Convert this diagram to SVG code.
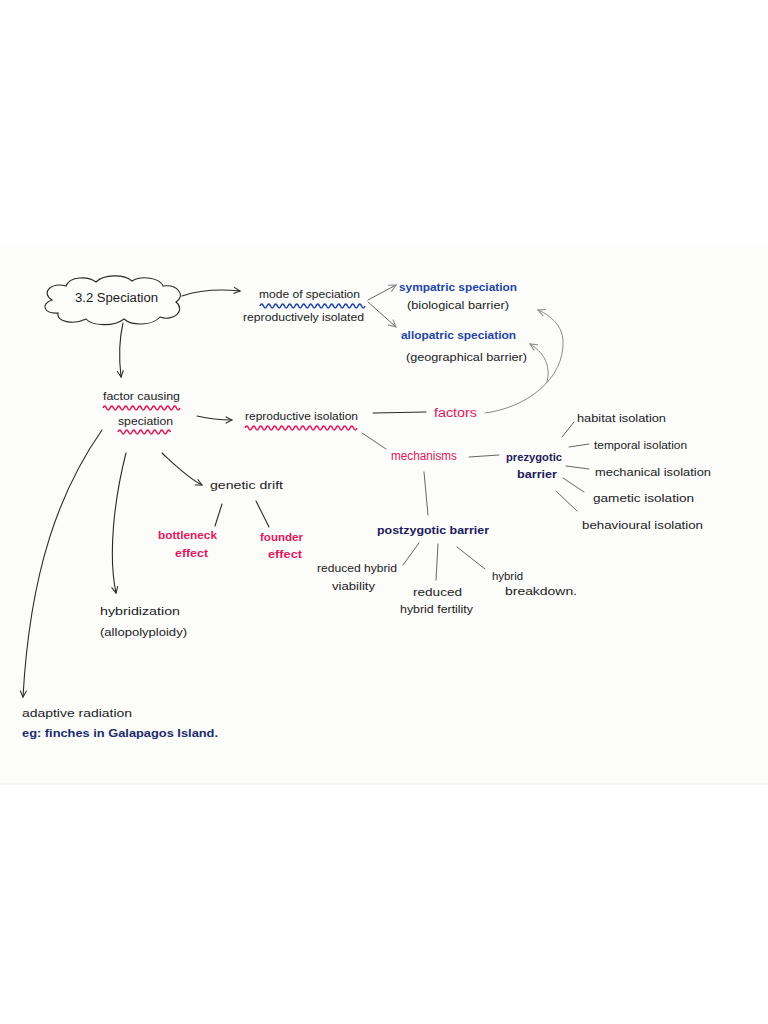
<svg xmlns="http://www.w3.org/2000/svg" width="768" height="1024" viewBox="0 0 768 1024">
<style>
text{font-family:"Liberation Sans","DejaVu Sans",sans-serif;font-size:11px;fill:#1b1b1b}
.blue{fill:#1f45a8;font-weight:bold;font-size:11.5px}
.pink{fill:#e2175c;font-size:12px}
.pinkb{fill:#e2175c;font-weight:bold;font-size:11px}
.navy{fill:#231a5c;font-weight:bold;font-size:11.5px}
.eg{fill:#1c2a6e;font-weight:bold;font-size:11.5px}
.c{fill:none;stroke:#2a2a2a;stroke-width:1.1;stroke-linecap:round}
.g{fill:none;stroke:#666;stroke-width:1;stroke-linecap:round}
.gc{fill:none;stroke:#8a8a8a;stroke-width:1;stroke-linecap:round}
.wb{fill:none;stroke:#1f45a8;stroke-width:1.6}
.wp{fill:none;stroke:#e2175c;stroke-width:1.6}
</style>
<defs>
<marker id="ah" viewBox="0 0 10 10" refX="9" refY="5" markerWidth="8" markerHeight="8" markerUnits="userSpaceOnUse" orient="auto">
<path d="M1,1 L9,5 L1,9" fill="none" stroke="#2a2a2a" stroke-width="1.3"/>
</marker>
<marker id="ahg" viewBox="0 0 10 10" refX="9" refY="5" markerWidth="9" markerHeight="9" markerUnits="userSpaceOnUse" orient="auto">
<path d="M1,1 L9,5 L1,9" fill="none" stroke="#8a8a8a" stroke-width="1.2"/>
</marker>
</defs>
<rect x="0" y="0" width="768" height="1024" fill="#ffffff"/>
<rect x="0" y="244" width="768" height="540" fill="#fcfcfb"/>
<line x1="0" y1="784" x2="768" y2="784" stroke="#efefed" stroke-width="1"/>

<g id="connectors">
<path class="c" d="M182,296 C200,290 220,289 240,291" marker-end="url(#ah)"/>
<path class="g" d="M368,300 L396,285" marker-end="url(#ahg)"/>
<path class="g" d="M368,302 L396,327" marker-end="url(#ahg)"/>
<path class="c" d="M123,323 C119,340 119,360 121,377" marker-end="url(#ah)"/>
<path class="c" d="M197,416 C210,419 220,420 232,420" marker-end="url(#ah)"/>
<path class="c" d="M373,413 L426,412"/>
<path class="g" d="M362,433 L386,449"/>
<path class="g" d="M469,457 L499,455"/>
<path class="g" d="M424,472 L428,515"/>
<path class="gc" d="M485,413 C525,408 565,380 563,340 C562,325 550,315 538,310" marker-end="url(#ahg)"/>
<path class="gc" d="M547,382 C550,370 548,355 530,344" marker-end="url(#ahg)"/>
<path class="g" d="M562,437 L574,422"/>
<path class="g" d="M569,447 L589,444"/>
<path class="g" d="M566,466 L589,469"/>
<path class="g" d="M563,478 L584,492"/>
<path class="g" d="M556,491 L577,511"/>
<path class="g" d="M419,543 L403,565"/>
<path class="g" d="M438,544 L436,580"/>
<path class="g" d="M457,547 L485,569"/>
<path class="c" d="M162,453 C175,465 188,478 202,485" marker-end="url(#ah)"/>
<path class="c" d="M222,504 L215,526"/>
<path class="c" d="M256,501 L269,527"/>
<path class="c" d="M126,453 C114,500 108,555 116,593" marker-end="url(#ah)"/>
<path class="c" d="M102,430 C60,490 30,570 23,697" marker-end="url(#ah)"/>
</g>

<g id="n-speciation">
<path class="c" d="M52,300 C40,292 52,282 66,286 C70,276 88,276 96,282 C104,274 124,274 132,281 C142,275 160,278 163,286 C178,284 186,296 176,302 C186,310 174,322 160,317 C152,326 132,326 124,319 C114,327 92,326 86,319 C74,325 56,322 58,313 C44,314 40,304 52,300 Z"/>
<text x="75" y="302" textLength="83" lengthAdjust="spacingAndGlyphs" style="font-size:12px">3.2 Speciation</text>
</g>

<g id="n-mode">
<text x="259" y="298" textLength="101" lengthAdjust="spacingAndGlyphs">mode of speciation</text>
<path class="wb" d="M260,306 q1.75,-4 3.5,0 t3.5,0 t3.5,0 t3.5,0 t3.5,0 t3.5,0 t3.5,0 t3.5,0 t3.5,0 t3.5,0 t3.5,0 t3.5,0 t3.5,0 t3.5,0 t3.5,0 t3.5,0 t3.5,0 t3.5,0 t3.5,0 t3.5,0 t3.5,0 t3.5,0 t3.5,0 t3.5,0 t3.5,0 t3.5,0 t3.5,0 t3.5,0 t3.5,0 t3.5,0"/>
<text x="243" y="321" textLength="121" lengthAdjust="spacingAndGlyphs">reproductively isolated</text>
</g>

<g id="n-sympatric">
<text class="blue" x="399" y="291" textLength="118" lengthAdjust="spacingAndGlyphs">sympatric speciation</text>
<text x="407" y="309" textLength="102" lengthAdjust="spacingAndGlyphs">(biological barrier)</text>
</g>

<g id="n-allopatric">
<text class="blue" x="401" y="339" textLength="115" lengthAdjust="spacingAndGlyphs">allopatric speciation</text>
<text x="406" y="361" textLength="121" lengthAdjust="spacingAndGlyphs">(geographical barrier)</text>
</g>

<g id="n-factor-causing">
<text x="103" y="400" textLength="77" lengthAdjust="spacingAndGlyphs">factor causing</text>
<path class="wp" d="M103,408 q1.75,-4 3.5,0 t3.5,0 t3.5,0 t3.5,0 t3.5,0 t3.5,0 t3.5,0 t3.5,0 t3.5,0 t3.5,0 t3.5,0 t3.5,0 t3.5,0 t3.5,0 t3.5,0 t3.5,0 t3.5,0 t3.5,0 t3.5,0 t3.5,0 t3.5,0 t3.5,0"/>
<text x="118" y="425" textLength="55" lengthAdjust="spacingAndGlyphs">speciation</text>
<path class="wp" d="M118,432 q1.75,-4 3.5,0 t3.5,0 t3.5,0 t3.5,0 t3.5,0 t3.5,0 t3.5,0 t3.5,0 t3.5,0 t3.5,0 t3.5,0 t3.5,0 t3.5,0 t3.5,0 t3.5,0"/>
</g>

<g id="n-reproductive-isolation">
<text x="245" y="420" textLength="113" lengthAdjust="spacingAndGlyphs">reproductive isolation</text>
<path class="wp" d="M245,428 q1.75,-4 3.5,0 t3.5,0 t3.5,0 t3.5,0 t3.5,0 t3.5,0 t3.5,0 t3.5,0 t3.5,0 t3.5,0 t3.5,0 t3.5,0 t3.5,0 t3.5,0 t3.5,0 t3.5,0 t3.5,0 t3.5,0 t3.5,0 t3.5,0 t3.5,0 t3.5,0 t3.5,0 t3.5,0 t3.5,0 t3.5,0 t3.5,0 t3.5,0 t3.5,0 t3.5,0 t3.5,0 t3.5,0"/>
</g>

<g id="n-factors">
<text class="pink" x="434" y="417" textLength="43" lengthAdjust="spacingAndGlyphs">factors</text>
</g>

<g id="n-mechanisms">
<text class="pink" x="391" y="460" textLength="66" lengthAdjust="spacingAndGlyphs">mechanisms</text>
</g>

<g id="n-prezygotic">
<text class="navy" x="506" y="461" textLength="56" lengthAdjust="spacingAndGlyphs">prezygotic</text>
<text class="navy" x="517" y="478" textLength="40" lengthAdjust="spacingAndGlyphs">barrier</text>
</g>

<g id="n-habitat"><text x="577" y="422" textLength="89" lengthAdjust="spacingAndGlyphs">habitat isolation</text></g>
<g id="n-temporal"><text x="594" y="449" textLength="93" lengthAdjust="spacingAndGlyphs">temporal isolation</text></g>
<g id="n-mechanical"><text x="595" y="476" textLength="116" lengthAdjust="spacingAndGlyphs">mechanical isolation</text></g>
<g id="n-gametic"><text x="593" y="502" textLength="101" lengthAdjust="spacingAndGlyphs">gametic isolation</text></g>
<g id="n-behavioural"><text x="582" y="529" textLength="121" lengthAdjust="spacingAndGlyphs">behavioural isolation</text></g>

<g id="n-postzygotic">
<text class="navy" x="377" y="534" textLength="112" lengthAdjust="spacingAndGlyphs">postzygotic barrier</text>
</g>

<g id="n-viability">
<text x="317" y="572" textLength="80" lengthAdjust="spacingAndGlyphs">reduced hybrid</text>
<text x="332" y="590" textLength="43" lengthAdjust="spacingAndGlyphs">viability</text>
</g>

<g id="n-fertility">
<text x="413" y="596" textLength="49" lengthAdjust="spacingAndGlyphs">reduced</text>
<text x="400" y="613" textLength="73" lengthAdjust="spacingAndGlyphs">hybrid fertility</text>
</g>

<g id="n-breakdown">
<text x="492" y="580" textLength="31" lengthAdjust="spacingAndGlyphs">hybrid</text>
<text x="505" y="595" textLength="72" lengthAdjust="spacingAndGlyphs">breakdown.</text>
</g>

<g id="n-genetic-drift">
<text x="210" y="489" textLength="73" lengthAdjust="spacingAndGlyphs">genetic drift</text>
</g>

<g id="n-bottleneck">
<text class="pinkb" x="158" y="539" textLength="59" lengthAdjust="spacingAndGlyphs">bottleneck</text>
<text class="pinkb" x="175" y="557" textLength="33" lengthAdjust="spacingAndGlyphs">effect</text>
</g>

<g id="n-founder">
<text class="pinkb" x="260" y="541" textLength="43" lengthAdjust="spacingAndGlyphs">founder</text>
<text class="pinkb" x="268" y="558" textLength="34" lengthAdjust="spacingAndGlyphs">effect</text>
</g>

<g id="n-hybridization">
<text x="100" y="615" textLength="80" lengthAdjust="spacingAndGlyphs">hybridization</text>
<text x="100" y="636" textLength="87" lengthAdjust="spacingAndGlyphs">(allopolyploidy)</text>
</g>

<g id="n-adaptive">
<text x="22" y="717" textLength="110" lengthAdjust="spacingAndGlyphs">adaptive radiation</text>
<text class="eg" x="22" y="737" textLength="196" lengthAdjust="spacingAndGlyphs">eg: finches in Galapagos Island.</text>
</g>
</svg>
